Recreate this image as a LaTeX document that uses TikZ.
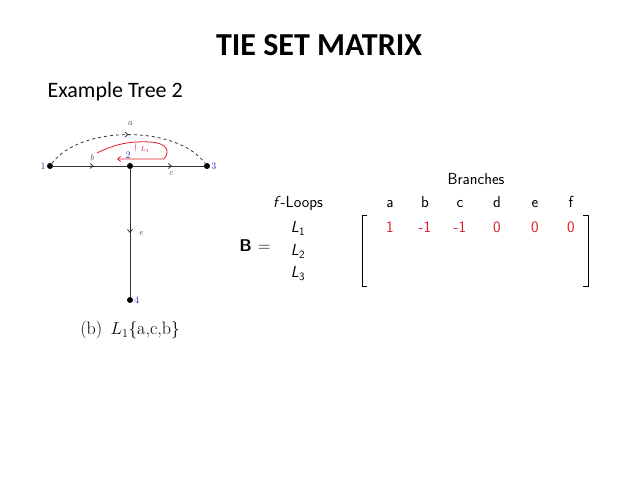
\documentclass[tikz,border=0pt]{standalone}
\usepackage{fontspec}
\newfontfamily\carlito{Carlito}
\usetikzlibrary{decorations.markings,arrows.meta}
\definecolor{nblue}{RGB}{50,50,200}
\definecolor{mred}{RGB}{220,30,40}
\newcommand{\LL}[1]{\textit{L}\textsubscript{#1}}
\tikzset{
 vtx/.style={circle,fill=black,inner sep=0pt,minimum size=6pt},
 vlab/.style={text=nblue,font=\normalsize,inner sep=1pt},
 elab/.style={font=\small\itshape,text=black!70,inner sep=1pt},
 edge/.style={thick,black!80,postaction={decorate},decoration={markings,mark=at position #1 with {\arrow{Straight Barb[length=3pt,width=5pt]}}}},
 mtx/.style={font=\sffamily\fontsize{16}{19}\selectfont,inner sep=0pt,anchor=base},
}
\begin{document}
\begin{tikzpicture}[x=1pt,y=-1pt]
\useasboundingbox (0,0) rectangle (638,478);
\node[font=\carlito\bfseries\fontsize{32}{38}\selectfont] (title) at (319,45) {TIE SET MATRIX};
\node[font=\carlito\fontsize{22}{26}\selectfont,anchor=west] (ex) at (44,92) {Example Tree 2};
\node[vtx] (n1) at (50,166) {};
\node[vtx] (n2) at (130,166) {};
\node[vtx] (n3) at (207,166) {};
\node[vtx] (n4) at (130,300) {};
\node[vlab,left] at (n1.west) {1};
\node[vlab] at (128,155) {2};
\node[vlab,right] at (n3.east) {3};
\node[vlab,right] at (n4.east) {4};
\draw[edge=0.55] (n1) -- (n2);
\draw[edge=0.55] (n2) -- (n3);
\draw[edge=0.5] (n2) -- (n4);
\draw[thick,dashed,black!80,postaction={decorate},decoration={markings,mark=at position 0.5 with {\arrow{Straight Barb[length=3pt,width=5pt]}}}] (n1) .. controls (80,125) and (177,125) .. (n3);
\node[elab] at (130,124) {a};
\node[elab] at (92,157) {b};
\node[elab] at (171,174) {c};
\node[elab] at (141,234) {e};
\draw[mred,thick,-{Straight Barb[length=3pt,width=5pt]}] (97,153) .. controls (115,144) and (130,141) .. (150,142) .. controls (168,143) and (170,152) .. (164,159) -- (117,159);
\draw[mred,thin] (136,143) -- (135,151);
\node[font=\scriptsize\itshape,text=mred] at (145,150) {L$_1$};
\node[font=\fontsize{18}{21}\selectfont] (cap) at (130,330) {(b)\, $L_1\{$a,c,b$\}$};
\node[mtx,font=\sffamily\bfseries\fontsize{17}{20}\selectfont] (B) at (255,252) {B $=$};
\node[mtx] (fl) at (298,208) {\textit{f}-Loops};
\node[mtx] (l1) at (298,233) {\LL1};
\node[mtx] (l2) at (298,256) {\LL2};
\node[mtx] (l3) at (298,278) {\LL3};
\node[mtx] (br) at (476,185) {Branches};
\foreach \x/\t in {390/a,425/b,460/c,497/d,535/e,571/f} \node[mtx] at (\x,208) {\t};
\foreach \x/\t in {390/1,425/-1,460/-1,497/0,535/0,571/0} \node[mtx,text=mred] at (\x,233) {\t};
\draw[thick] (367,215) -- (362,215) -- (362,286) -- (367,286);
\draw[thick] (583,215) -- (588,215) -- (588,286) -- (583,286);
\end{tikzpicture}
\end{document}
